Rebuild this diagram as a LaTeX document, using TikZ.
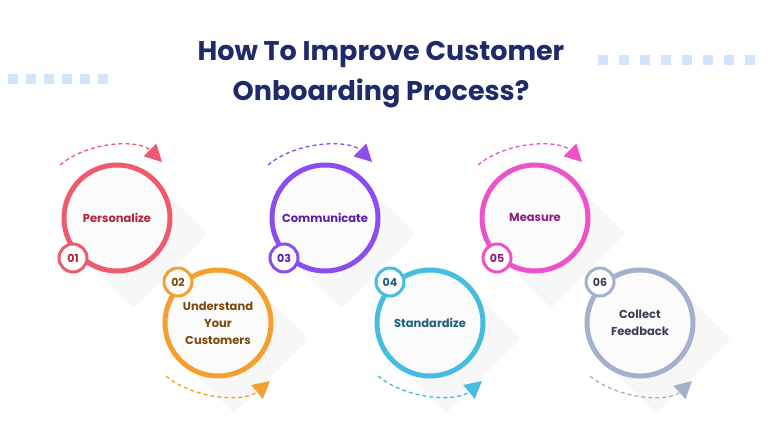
\documentclass[tikz,border=0pt]{standalone}
\usepackage{fontspec}
\setmainfont{Poppins}
\usetikzlibrary{arrows.meta}
\definecolor{navy}{HTML}{1F2A6B}
\definecolor{sq}{HTML}{D3E4FB}
\definecolor{c1}{HTML}{EE5A6E}\definecolor{t1}{HTML}{B0243A}
\definecolor{c2}{HTML}{F4A02E}\definecolor{t2}{HTML}{7A4A10}
\definecolor{c3}{HTML}{8B4DF0}\definecolor{t3}{HTML}{5A1FA8}
\definecolor{c4}{HTML}{45BCE0}\definecolor{t4}{HTML}{1F5F80}
\definecolor{c5}{HTML}{EE52C8}\definecolor{t5}{HTML}{8E1D80}
\definecolor{c6}{HTML}{A4B0CC}\definecolor{t6}{HTML}{3A4055}
\tikzset{
 big/.style={circle,minimum size=106pt,line width=5pt,fill=white!97!gray,font=\bfseries\fontsize{11.5}{17}\selectfont,align=center,inner sep=0pt},
 badge/.style={circle,minimum size=28pt,line width=3pt,fill=white,font=\bfseries\fontsize{11}{12}\selectfont,inner sep=0pt},
 darr/.style={dash pattern=on 4pt off 3pt,line width=1.3pt,-{Triangle[length=17pt,width=18pt,line width=0pt]}},
 sqs/.style={fill=sq,draw=none}
}
\begin{document}
\begin{tikzpicture}[x=1pt,y=-1pt]
\useasboundingbox (0,0) rectangle (768,427);
\fill[white] (0,0) rectangle (768,427);
\foreach \i in {0,...,5} \fill[sqs] (8+\i*18,74) rectangle ++(10,10);
\foreach \i in {0,...,7} \fill[sqs] (598+\i*21,55) rectangle ++(10,10);
\node[font=\bfseries\fontsize{27}{40}\selectfont,text=navy,align=center] (title) at (381,75) {How To Improve Customer\\Onboarding Process?};
% shadows
\foreach \x/\y in {117/218,218/323,325/218,430/323,535/218,640/323}
  \fill[black,opacity=0.03] (\x+37,\y-37) -- (\x+90,\y+16) -- (\x+16,\y+90) -- (\x-37,\y+37) -- cycle;
\node[big,draw=c1,text=t1] (n1) at (117,218) {Personalize};
\node[big,draw=c2,text=t2] (n2) at (218,323) {Understand\\Your\\Customers};
\node[big,draw=c3,text=t3] (n3) at (325,218) {Communicate};
\node[big,draw=c4,text=t4] (n4) at (430,323) {Standardize};
\node[big,draw=c5,text=t5] (n5) at (535,218) {Measure};
\node[big,draw=c6,text=t6] (n6) at (640,323) {Collect\\Feedback};
\node[badge,draw=c1,text=t1] (b1) at (73,258) {01};
\node[badge,draw=c2,text=t2] (b2) at (178,282) {02};
\node[badge,draw=c3,text=t3] (b3) at (284,258) {03};
\node[badge,draw=c4,text=t4] (b4) at (390,282) {04};
\node[badge,draw=c5,text=t5] (b5) at (497,258) {05};
\node[badge,draw=c6,text=t6] (b6) at (600,282) {06};
% arrows
\coordinate (a1s) at (60,165); \coordinate (a1e) at (162,162);
\coordinate (a3s) at (268,165); \coordinate (a3e) at (372,162);
\coordinate (a5s) at (478,165); \coordinate (a5e) at (582,162);
\coordinate (a2s) at (166,376); \coordinate (a2e) at (270,381);
\coordinate (a4s) at (378,376); \coordinate (a4e) at (482,381);
\coordinate (a6s) at (590,376); \coordinate (a6e) at (692,381);
\draw[darr,c1] (a1s) .. controls (90,140) and (140,140) .. (a1e);
\draw[darr,c3] (a3s) .. controls (298,140) and (350,140) .. (a3e);
\draw[darr,c5] (a5s) .. controls (508,140) and (560,140) .. (a5e);
\draw[darr,c2] (a2s) .. controls (195,400) and (245,402) .. (a2e);
\draw[darr,c4] (a4s) .. controls (407,400) and (457,402) .. (a4e);
\draw[darr,c6] (a6s) .. controls (619,400) and (669,402) .. (a6e);
\end{tikzpicture}
\end{document}
